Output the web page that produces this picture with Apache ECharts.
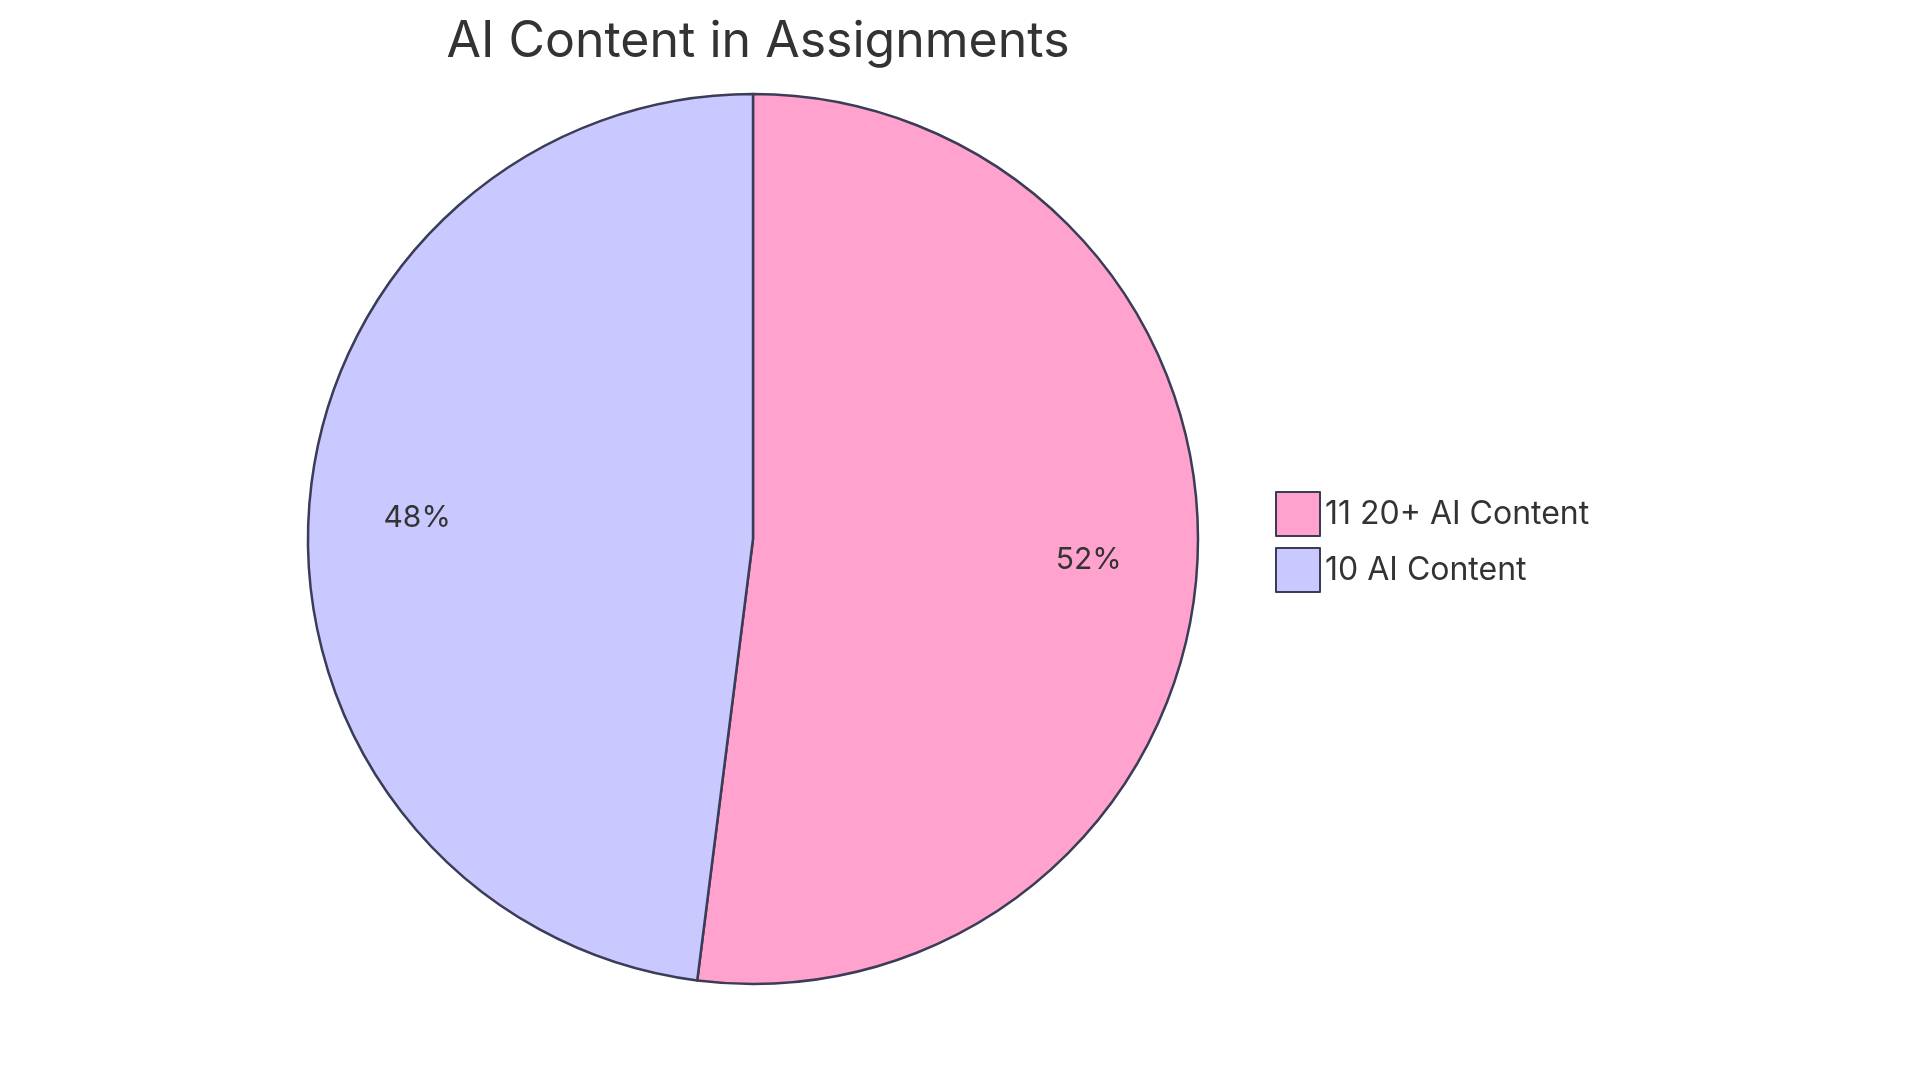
<!DOCTYPE html>
<html><head><meta charset="utf-8">
<script src="https://cdn.jsdelivr.net/npm/echarts@6/dist/echarts.min.js"></script>
<style>html,body{margin:0;padding:0;background:#fff}#c{width:1920px;height:1083px}</style>
</head><body><div id="c"></div>
<script>
const categories = ['11 20+ AI Content', '10 AI Content'];
const values = [52, 48];
const colors = ['#FFA3CE', '#C9C9FF'];
const total = values.reduce((a, b) => a + b, 0);
const chart = echarts.init(document.getElementById('c'));
const font = 'Inter, "Noto Sans", sans-serif';
const data = categories.map((n, i) => ({ name: n, value: values[i], itemStyle: { color: colors[i] } }));
chart.setOption({
  animation: false,
  title: { text: 'AI Content in Assignments', left: 753, top: 12, textAlign: 'center',
    textStyle: { fontFamily: font, fontSize: 50, fontWeight: 'normal', color: '#333' } },
  legend: { data: categories, orient: 'vertical', left: 1270, top: 486, itemWidth: 44, itemHeight: 44,
    itemGap: 10, icon: 'rect', textStyle: { fontFamily: font, fontSize: 32, color: '#333' } },
  series: [
    { type: 'pie', center: [753, 539], radius: [0, 445], startAngle: 90, clockwise: true,
      data: data, label: { show: false }, labelLine: { show: false },
      itemStyle: { borderColor: '#3B3D58', borderWidth: 2.5 }, emphasis: { disabled: true } },
    { type: 'pie', center: [753, 539], radius: [0, 667], startAngle: 90, clockwise: true, silent: true,
      data: categories.map((n, i) => ({ name: n, value: values[i], itemStyle: { color: 'rgba(0,0,0,0)' } })),
      label: { show: true, position: 'inside', fontFamily: font, fontSize: 30, color: '#333',
        formatter: p => Math.round(p.value / total * 100) + '%' },
      labelLine: { show: false }, itemStyle: { borderWidth: 0 }, emphasis: { disabled: true } }
  ]
});
</script></body></html>
